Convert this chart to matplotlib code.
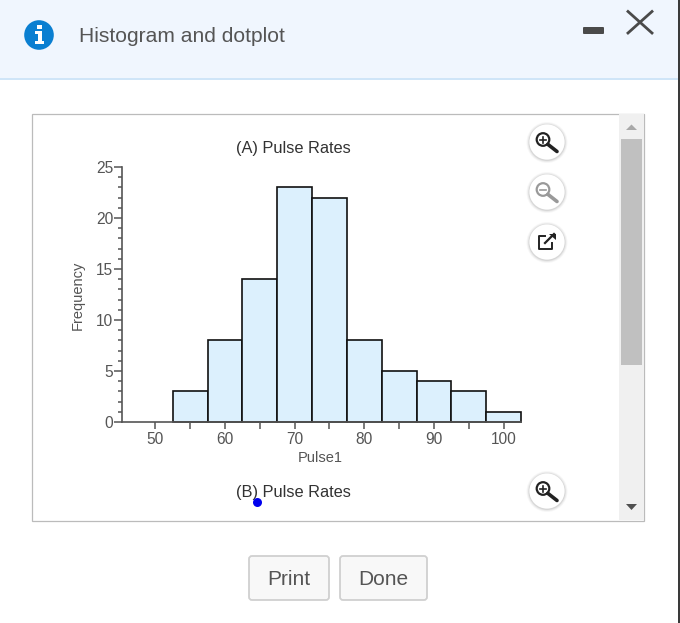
import matplotlib
matplotlib.use('Agg')
import matplotlib.pyplot as plt
from matplotlib.patches import Rectangle, Circle, FancyBboxPatch, Polygon

plt.rcParams['font.family'] = ['Liberation Sans', 'DejaVu Sans']

W, H = 680, 623

# histogram data
bin_centers = [55, 60, 65, 70, 75, 80, 85, 90, 95, 100]
frequency = [3, 8, 14, 23, 22, 8, 5, 4, 3, 1]
bin_width = 5
x_ticks = [50, 60, 70, 80, 90, 100]
x_minor = [55, 65, 75, 85, 95]
y_ticks = [0, 5, 10, 15, 20, 25]
y_minor = [v for v in range(26) if v % 5 != 0]

GREY = '#555555'

fig = plt.figure(figsize=(W / 100, H / 100), dpi=100, facecolor='white')

# window chrome is drawn in pixel coordinates
ui = fig.add_axes([0, 0, 1, 1])
ui.set_xlim(0, W)
ui.set_ylim(H, 0)
ui.axis('off')


def rect(x0, y0, x1, y1, color, z=1, **kw):
    ui.add_patch(Rectangle((x0, y0), x1 - x0, y1 - y0, facecolor=color, edgecolor='none', zorder=z, **kw))


def round_button(x0, y0, x1, y1, label):
    ui.add_patch(FancyBboxPatch((x0 + 3, y0 + 3), x1 - x0 - 6, y1 - y0 - 6, boxstyle='round,pad=3',
                                facecolor='#f8f8f8', edgecolor='#d0d0d0', linewidth=1.3, zorder=2))
    ui.text((x0 + x1) / 2, (y0 + y1) / 2 + 1.5, label, ha='center', va='center', fontsize=15, color=GREY, zorder=3)


def icon_base(cx, cy):
    # soft shadow then white disc
    for r, a in [(20.5, 0.03), (19.5, 0.05), (18.5, 0.08)]:
        ui.add_patch(Circle((cx, cy + 0.5), r, facecolor='black', edgecolor='none', alpha=a, zorder=4))
    ui.add_patch(Circle((cx, cy), 17.6, facecolor='white', edgecolor='none', zorder=5))


def magnifier(cx, cy, sign, color):
    gx, gy = cx - 4, cy - 2.5
    ui.add_patch(Circle((gx, gy), 6.3, facecolor='none', edgecolor=color, linewidth=1.6, zorder=6))
    ui.plot([gx + 4.8, gx + 14], [gy + 4.8, gy + 12], color=color, lw=2.6, zorder=6, solid_capstyle='round')
    ui.plot([gx - 3, gx + 3], [gy, gy], color=color, lw=1.2, zorder=6)
    if sign == '+':
        ui.plot([gx, gx], [gy - 3, gy + 3], color=color, lw=1.2, zorder=6)


# header
rect(0, 0, W, 78, '#f0f6fe')
rect(0, 78, W, 80, '#cfe5f8')
rect(678, 0, W, H, '#3a3a3a', z=8)

# info icon
ui.add_patch(Circle((39, 35), 14.8, facecolor='#0a7fd1', edgecolor='none', zorder=2))
rect(37, 24.5, 41.5, 28.5, 'white', z=3)
rect(37.5, 31, 41.5, 42, 'white', z=3)
rect(35, 31, 41.5, 33.5, 'white', z=3)
rect(35, 41, 44, 44, 'white', z=3)

ui.text(79, 36.5, 'Histogram and dotplot', ha='left', va='center', fontsize=15.1, color=GREY, zorder=3)

# minimise and close
ui.add_patch(FancyBboxPatch((584, 28), 19, 5, boxstyle='round,pad=1', facecolor='#4a4a4a', edgecolor='none', zorder=3))
ui.plot([628, 652], [11.5, 33], color='#4a4a4a', lw=2, zorder=3)
ui.plot([652, 628], [11.5, 33], color='#4a4a4a', lw=2, zorder=3)

# scrolling panel
ui.add_patch(Rectangle((32, 113.5), 612, 407, facecolor='white', edgecolor='#bbbbbb', linewidth=0.9, zorder=1))
rect(619, 114, 643.5, 520, '#f0f0f0', z=2)
rect(621, 139, 642, 365, '#c0c0c0', z=3)
ui.add_patch(Polygon([[626, 130], [631.5, 124.5], [637, 130]], facecolor='#a8a8a8', edgecolor='none', zorder=3))
ui.add_patch(Polygon([[626, 504], [631.5, 510], [637, 504]], facecolor='#505050', edgecolor='none', zorder=3))

ui.text(293.5, 148, '(A) Pulse Rates', ha='center', va='center', fontsize=11.8, color='#333333', zorder=3)
ui.text(293.5, 492.5, '(B) Pulse Rates', ha='center', va='center', fontsize=11.8, color='#333333', zorder=3)

# zoom and pop-out icons
icon_base(547, 142)
magnifier(547, 142, '+', '#222222')
icon_base(547, 192)
magnifier(547, 192, '-', '#999999')
icon_base(547, 242)
ui.plot([545, 539, 539, 552, 552], [236, 236, 249, 249, 243], color='#222222', lw=1.4, zorder=6)
ui.plot([545, 554], [243, 234], color='#222222', lw=1.6, zorder=6)
ui.add_patch(Polygon([[549, 234], [556, 234], [556, 240]], facecolor='#222222', edgecolor='none', zorder=6))
icon_base(547, 491)
magnifier(547, 491, '+', '#222222')

# blue dot of plot B
ui.scatter([256.5], [502], s=42, color='#0000ee', zorder=6, linewidths=0)

round_button(249, 556, 329, 600, 'Print')
round_button(340, 556, 427, 600, 'Done')

# histogram
ax_left, ax_right, ax_top, ax_bottom = 121.7, 521, 167, 422
ax = fig.add_axes([ax_left / W, 1 - ax_bottom / H, (ax_right - ax_left) / W, (ax_bottom - ax_top) / H])
ax.patch.set_alpha(0)
ax.bar(bin_centers, frequency, width=bin_width, facecolor='#dcf0fd', edgecolor='#111111', linewidth=1.2, clip_on=False)
ax.set_xlim(45.16, 102.5)
ax.set_ylim(0, 25)
ax.set_xticks(x_ticks)
ax.set_xticks(x_minor, minor=True)
ax.set_yticks(y_ticks)
ax.set_yticks(y_minor, minor=True)
ax.tick_params(axis='x', which='both', length=5, width=1.1, color=GREY, labelsize=11.2, labelcolor=GREY, pad=2.5)
ax.tick_params(axis='y', which='major', length=6, width=1.1, color=GREY, labelsize=11.2, labelcolor=GREY, pad=0)
ax.tick_params(axis='y', which='minor', length=3, width=1.1, color=GREY)
for side in ['top', 'right']:
    ax.spines[side].set_visible(False)
for side in ['left', 'bottom']:
    ax.spines[side].set_color(GREY)
    ax.spines[side].set_linewidth(1.2)

ui.text(78, 295, 'Frequency', rotation=90, ha='center', va='center', fontsize=10.5, color=GREY)
ui.text(320.5, 457.5, 'Pulse1', ha='center', va='center', fontsize=10.5, color=GREY)

fig.savefig('out.png', dpi=100)
